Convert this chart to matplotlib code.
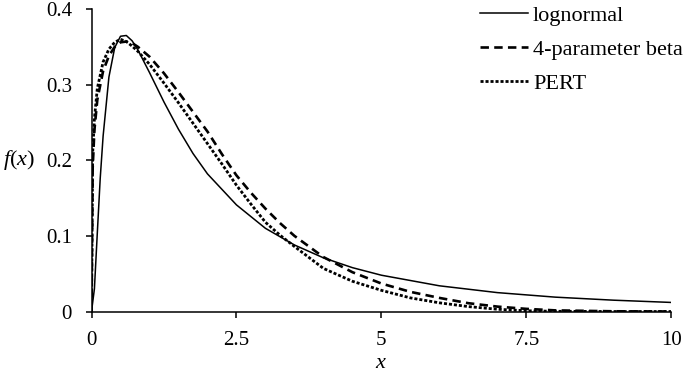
import matplotlib
matplotlib.use("Agg")
import matplotlib.pyplot as plt

plt.rcParams['font.family'] = ['Liberation Serif', 'DejaVu Serif']
plt.rcParams['mathtext.fontset'] = 'custom'
plt.rcParams['mathtext.rm'] = 'Liberation Serif'
plt.rcParams['mathtext.it'] = 'Liberation Serif:italic'

# values
x_logn = [0, 0.05, 0.1, 0.15, 0.2, 0.3, 0.4, 0.5, 0.6, 0.7, 0.8, 1.0, 1.25, 1.5,
          1.75, 2.0, 2.5, 3.0, 3.5, 4.0, 4.5, 5.0, 6.0, 7.0, 8.0, 9.0, 10.0]
f_logn = [0, 0.030, 0.104, 0.176, 0.232, 0.310, 0.349, 0.364, 0.365, 0.358, 0.346,
          0.316, 0.277, 0.241, 0.209, 0.182, 0.141, 0.110, 0.088, 0.071, 0.058,
          0.048, 0.034, 0.025, 0.019, 0.015, 0.012]

x_b = [0, 0.02, 0.05, 0.1, 0.2, 0.3, 0.4, 0.5, 0.6, 0.7, 0.8, 1.0, 1.25, 1.5, 1.75,
       2.0, 2.25, 2.5, 2.75, 3.0, 3.25, 3.5, 4.0, 4.5, 5.0, 5.5, 6.0, 6.5, 7.0, 7.5,
       8.0, 9.0, 10.0]
f_beta = [0, 0.19, 0.24, 0.28, 0.318, 0.338, 0.350, 0.356, 0.357, 0.355, 0.350,
          0.337, 0.315, 0.290, 0.264, 0.238, 0.208, 0.180, 0.157, 0.136, 0.117,
          0.100, 0.072, 0.052, 0.037, 0.026, 0.018, 0.011, 0.0065, 0.0035, 0.0015,
          0.0003, 0]
f_pert = [0, 0.21, 0.255, 0.295, 0.33, 0.347, 0.356, 0.360, 0.357, 0.351, 0.344,
          0.327, 0.302, 0.276, 0.249, 0.222, 0.195, 0.167, 0.142, 0.118, 0.101,
          0.086, 0.057, 0.040, 0.028, 0.018, 0.0115, 0.0065, 0.003, 0.001, 0.0003,
          0, 0]

xticks = [0, 2.5, 5, 7.5, 10]
xticklabels = ['0', '2.5', '5', '7.5', '10']
yticks = [0, 0.1, 0.2, 0.3, 0.4]
yticklabels = ['0', '0.1', '0.2', '0.3', '0.4']

fig = plt.figure(figsize=(6.85, 3.76), dpi=100)
ax = fig.add_axes([0.1336, 0.1715, 0.8464, 0.8045])

ax.plot(x_logn, f_logn, color='black', lw=1.1, label='lognormal')
ax.plot(x_b, f_beta, color='black', lw=1.9, dashes=(3.2, 2.0), label='4-parameter beta')
ax.plot(x_b, f_pert, color='black', lw=2.0, dashes=(1.1, 0.7), label='PERT')

ax.set_xlim(0, 10)
ax.set_ylim(0, 0.4)
ax.set_xticks(xticks)
ax.set_xticklabels(xticklabels)
ax.set_yticks(yticks)
ax.set_yticklabels(yticklabels)
for s in ['top', 'right']:
    ax.spines[s].set_visible(False)
for s in ['left', 'bottom']:
    ax.spines[s].set_linewidth(1.1)
ax.tick_params(direction='out', length=4, width=1.1, labelsize=15, pad=10)

ax.set_xlabel('$x$', fontsize=16, labelpad=3)
ax.set_ylabel('$f$($x$)', fontsize=16, rotation=0, labelpad=8, va='center', ha='right')

leg = fig.legend(loc='upper right', bbox_to_anchor=(1.0, 0.992), frameon=False,
                 fontsize=16, handlelength=2.2, handletextpad=0.2, labelspacing=0.6,
                 borderaxespad=0, borderpad=0.1)

fig.savefig('out.png', dpi=100)
